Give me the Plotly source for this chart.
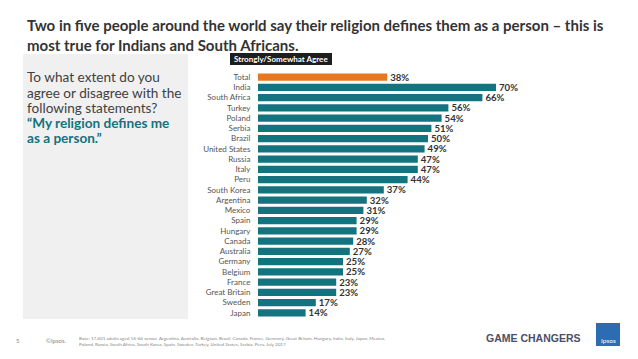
import plotly.graph_objects as go

categories = ["Total", "India", "South Africa", "Turkey", "Poland", "Serbia", "Brazil",
              "United States", "Russia", "Italy", "Peru", "South Korea", "Argentina",
              "Mexico", "Spain", "Hungary", "Canada", "Australia", "Germany", "Belgium",
              "France", "Great Britain", "Sweden", "Japan"]
values = [38, 70, 66, 56, 54, 51, 50, 49, 47, 47, 44, 37, 32, 31, 29, 29, 28, 27, 25, 25,
          23, 23, 17, 14]
value_labels = [f"{v}%" for v in values]

TEAL = "#13737e"
ORANGE = "#e87722"
bar_colors = [ORANGE] + [TEAL] * (len(categories) - 1)

W, H = 638, 359
FONT = "Lato"
L, R, T, B = 258, 40, 72, 41
PW, PH = W - L - R, H - T - B

fig = go.Figure()
fig.add_trace(go.Bar(
    x=values, y=categories, orientation="h",
    marker=dict(color=bar_colors, line=dict(width=0)),
    width=0.7,
    text=value_labels, textposition="outside", cliponaxis=False, constraintext="none",
    textfont=dict(family=FONT, size=9.6, color="#333333", weight="bold"),
    hoverinfo="skip",
))

fig.update_layout(
    width=W, height=H, autosize=False,
    margin=dict(l=L, r=R, t=T, b=B, pad=0),
    paper_bgcolor="white", plot_bgcolor="rgba(0,0,0,0)",
    showlegend=False, bargap=0.3,
    font=dict(family=FONT),
    xaxis=dict(range=[0, 100], visible=False, fixedrange=True),
    yaxis=dict(categoryorder="array", categoryarray=categories, autorange="reversed",
               showgrid=False, zeroline=False, showline=False, automargin=False,
               fixedrange=True,
               ticks="outside", ticklen=5, tickcolor="rgba(0,0,0,0)",
               tickfont=dict(family=FONT, size=8, color="#555555")),
)

def px(x):
    return (x - L) / PW

def py(y):
    return 1 - (y - T) / PH

shapes = [
    dict(type="rect", xref="paper", yref="paper", x0=px(23), x1=px(188), y0=py(319), y1=py(54),
         fillcolor="#f0f0f0", line=dict(width=0), layer="below"),
    dict(type="rect", xref="paper", yref="paper", x0=px(230), x1=px(332), y0=py(65), y1=py(53),
         fillcolor="#1e1e1e", line=dict(width=0)),
    dict(type="rect", xref="paper", yref="paper", x0=px(596), x1=px(620), y0=py(346), y1=py(323),
         fillcolor="#2a6db3", line=dict(width=0)),
]
fig.update_layout(shapes=shapes)

ann = []
ann.append(dict(xref="paper", yref="paper", x=px(25), y=py(14), xanchor="left", yanchor="top",
                showarrow=False, align="left",
                text="Two in five people around the world say their religion defines them as a person – this is<br>most true for Indians and South Africans.",
                font=dict(family=FONT, size=15, color="#333333", weight="bold")))

left_lines = [
    ("To what extent do you", False),
    ("agree or disagree with the", False),
    ("following statements?", False),
    ("“My religion defines me", True),
    ("as a person.”", True),
]
left_y = [77, 93, 108, 123, 138]
for (txt, bold), yy in zip(left_lines, left_y):
    ann.append(dict(xref="paper", yref="paper", x=px(25), y=py(yy), xanchor="left", yanchor="middle",
                    showarrow=False, align="left", height=14, valign="middle",
                    text=f"<b>{txt}</b>" if bold else txt,
                    font=dict(family=FONT, size=13.6, color=TEAL if bold else "#404040")))

ann.append(dict(xref="paper", yref="paper", x=px(281), y=py(59), xanchor="center", yanchor="middle",
                showarrow=False, text="<b>Strongly/Somewhat Agree</b>",
                font=dict(family=FONT, size=8, color="white")))
ann.append(dict(xref="paper", yref="paper", x=px(18), y=py(340), xanchor="center", yanchor="middle",
                showarrow=False, text="5", font=dict(family=FONT, size=6, color="#888888")))
ann.append(dict(xref="paper", yref="paper", x=px(44), y=py(340), xanchor="left", yanchor="middle",
                showarrow=False, text="©Ipsos.", font=dict(family=FONT, size=6, color="#888888")))
ann.append(dict(xref="paper", yref="paper", x=px(77), y=py(341), xanchor="left", yanchor="middle",
                showarrow=False, align="left",
                text="Base: 17,401 adults aged 16-64 across  Argentina, Australia, Belgium, Brazil, Canada, France, Germany, Great Britain, Hungary, India, Italy, Japan, Mexico,<br>Poland, Russia, South Africa, South Korea, Spain, Sweden, Turkey, United States, Serbia, Peru, July 2017",
                font=dict(family=FONT, size=4.6, color="#888888")))
ann.append(dict(xref="paper", yref="paper", x=px(533), y=py(338), xanchor="center", yanchor="middle",
                showarrow=False, text="<b>GAME CHANGERS</b>",
                font=dict(family="Liberation Sans", size=10.5, color="#4a4e6a")))
ann.append(dict(xref="paper", yref="paper", x=px(608), y=py(340), xanchor="center", yanchor="middle",
                showarrow=False, text="Ipsos",
                font=dict(family=FONT, size=6.5, color="white")))
fig.update_layout(annotations=ann)

fig.write_html("out.html", config={"displayModeBar": False},
               post_script="document.body.style.margin='0';document.body.style.overflow='hidden';")
